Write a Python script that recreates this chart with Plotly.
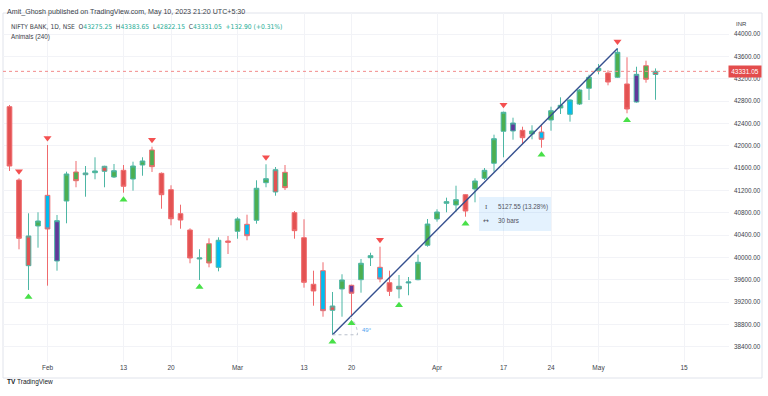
import plotly.graph_objects as go
import numpy as np

# ---------------- data ----------------
dates = ['2023-01-25', '2023-01-27', '2023-01-30', '2023-01-31',
         '2023-02-01', '2023-02-02', '2023-02-03', '2023-02-06', '2023-02-07', '2023-02-08',
         '2023-02-09', '2023-02-10', '2023-02-13', '2023-02-14', '2023-02-15', '2023-02-16',
         '2023-02-17', '2023-02-20', '2023-02-21', '2023-02-22', '2023-02-23', '2023-02-24',
         '2023-02-27', '2023-02-28',
         '2023-03-01', '2023-03-02', '2023-03-03', '2023-03-06', '2023-03-08', '2023-03-09',
         '2023-03-10', '2023-03-13', '2023-03-14', '2023-03-15', '2023-03-16', '2023-03-17',
         '2023-03-20', '2023-03-21', '2023-03-22', '2023-03-23', '2023-03-24', '2023-03-27',
         '2023-03-28', '2023-03-29', '2023-03-31',
         '2023-04-03', '2023-04-05', '2023-04-06', '2023-04-10', '2023-04-11', '2023-04-12',
         '2023-04-13', '2023-04-17', '2023-04-18', '2023-04-19', '2023-04-20', '2023-04-21',
         '2023-04-24', '2023-04-25', '2023-04-26', '2023-04-27', '2023-04-28',
         '2023-05-02', '2023-05-03', '2023-05-04', '2023-05-05', '2023-05-08', '2023-05-09',
         '2023-05-10']
future_dates = ['2023-05-11', '2023-05-12', '2023-05-15', '2023-05-16', '2023-05-17',
                '2023-05-18', '2023-05-19', '2023-05-22']

opens = [42698, 41385, 39851, 40562, 41111, 39935, 41009, 41529, 41480, 41516,
         41541, 41439, 41559, 41403, 41654, 41923, 41505, 41212, 40782, 40490,
         39971, 40245, 39822, 40293, 40467, 40592, 40664, 41337, 41171, 41523,
         40800, 40352, 39518, 39761, 39052, 39434, 39500, 39600, 39994, 39822,
         39546, 39434, 39541, 39600, 40216, 40687, 40968, 40938, 41122, 41224,
         41416, 41685, 42258, 42263, 42275, 42209, 42245, 42460, 42675, 42562,
         42746, 43028, 43343, 43302, 43225, 43105, 42782, 43432, 43275.25]
highs = [42729, 41416, 40789, 40807, 42012, 40759, 41534, 41726, 41636, 41792,
         41640, 41672, 41654, 41713, 41792, 41982, 41520, 41291, 40943, 40520,
         40145, 40341, 40359, 40383, 40718, 40764, 41380, 41667, 41618, 41654,
         40830, 40682, 39761, 39912, 39380, 39697, 39510, 39971, 40083, 40191,
         39761, 39684, 39648, 40048, 40687, 40861, 41069, 41283, 41130, 41416,
         41600, 42197, 42609, 42501, 42340, 42365, 42365, 42698, 42866, 42831,
         43015, 43271, 43463, 43350, 43741, 43583, 43414, 43522, 43383.65]
lows = [41547, 40144, 39416, 40173, 39493, 39761, 40610, 41255, 41086, 41398,
        41255, 41421, 41158, 41194, 41462, 41529, 40871, 40574, 40513, 39894,
        39595, 39822, 39750, 40060, 40334, 40306, 40603, 41255, 41104, 41206,
        40334, 39457, 39134, 38937, 38613.5, 38937, 38945, 39367, 39845, 39553,
        39308, 39267, 39321, 39590, 40191, 40639, 40807, 40818, 40728, 40986,
        41385, 41534, 41792, 42107, 42036, 42114, 41964, 42268, 42567, 42430,
        42729, 42818, 43278, 43081, 43212, 42580, 42770, 43128, 42822.15]
closes = [41636, 40341, 40383, 40651, 40508, 40657, 41493, 41373, 41511, 41547,
          41631, 41552, 41273, 41636, 41726, 41624, 41122, 40692, 40669, 39989,
          39989, 39899, 40306, 40270, 40687, 40388, 41237, 41409, 41570, 41248,
          40478, 39553, 39398, 39045, 39129, 39595, 39357, 39894, 40030, 39613,
          39392, 39482, 39559, 39912, 40597, 40812, 40997, 41033, 40830, 41368,
          41559, 42125, 42598, 42406, 42143, 42263, 42114, 42626, 42723, 42818,
          42997, 43225, 43386, 43140, 43672, 42657, 43278, 43189, 43331.05]
# "Animals" indicator bar state per candle
animal_state = ['R', 'R', 'R', 'G', 'B', 'P', 'G', 'G', 'R', 'G',
                'R', 'G', 'R', 'G', 'G', 'G', 'R', 'R', 'R', 'R',
                'R', 'G', 'B', 'R', 'G', 'B', 'G', 'G', 'R', 'G',
                'R', 'R', 'R', 'B', 'R', 'G', 'P', 'G', 'G', 'B',
                'R', 'R', 'P', 'G', 'G', 'G', 'G', 'G', 'R', 'G',
                'G', 'G', 'G', 'P', 'R', 'G', 'B', 'G', 'G', 'B',
                'G', 'G', 'G', 'R', 'G', 'R', 'P', 'G', 'R']
sell_signals = ['2023-01-27', '2023-02-01', '2023-02-16', '2023-03-06', '2023-03-23',
                '2023-04-17', '2023-05-04']
buy_signals = ['2023-01-30', '2023-02-13', '2023-02-23', '2023-03-16', '2023-03-20',
               '2023-03-27', '2023-04-10', '2023-04-21', '2023-05-05']
trend_start, trend_end = '2023-03-16', '2023-05-04'

tick_dates = ['2023-02-01', '2023-02-13', '2023-02-20', '2023-03-01', '2023-03-13', '2023-03-20',
              '2023-04-03', '2023-04-17', '2023-04-24', '2023-05-02', '2023-05-15']
tick_text = ['Feb', '13', '20', 'Mar', '13', '20', 'Apr', '17', '24', 'May', '15']

last_price = 43331.05
legend_vals = dict(O='43275.25', H='43383.65', L='42822.15', C='43331.05')
change_txt = '+132.90 (+0.31%)'
measure_txt = '5127.55 (13.28%)'
bars_txt = '30 bars'
angle_txt = '49°'

# ---------------- styling ----------------
body_colors = {'R': '#e35252', 'G': '#4caf50', 'B': '#00bcf0', 'P': '#60389a'}
wick_up, wick_dn = '#4db6a4', '#ef6b6e'
FONT = 'Liberation Sans, Arial, sans-serif'
NARROW = 'Liberation Sans Narrow, DejaVu Sans Condensed, Liberation Sans, sans-serif'
TXT = '#3b3f4a'

W, H = 768, 396
PL, PR, PT, PB = 3, 729, 13, 362          # plot area in px
calendar = dates + future_dates
idx = {d: i for i, d in enumerate(calendar)}
x = [idx[d] for d in dates]

X_PER_PX = 1 / 9.5
x_range = [(PL - 9.5) * X_PER_PX, (PR - 9.5) * X_PER_PX]
y_range = [38126, 44376]
Y_PER_PX = (y_range[1] - y_range[0]) / (PB - PT)


def pxx(px):
    return (px - PL) / (PR - PL)


def pxy(py):
    return (PB - py) / (PB - PT)


fig = go.Figure()

for code, col in body_colors.items():
    sel = [i for i, s in enumerate(animal_state) if s == code]
    fig.add_trace(go.Candlestick(
        x=[x[i] for i in sel],
        open=[opens[i] for i in sel], high=[highs[i] for i in sel],
        low=[lows[i] for i in sel], close=[closes[i] for i in sel],
        increasing=dict(line=dict(color=wick_up, width=1), fillcolor=col),
        decreasing=dict(line=dict(color=wick_dn, width=1), fillcolor=col),
        whiskerwidth=0, showlegend=False, hoverinfo='skip'))

# trend line
fig.add_trace(go.Scatter(
    x=[idx[trend_start], idx[trend_end]],
    y=[lows[dates.index(trend_start)], highs[dates.index(trend_end)]],
    mode='lines', line=dict(color='#36508f', width=1.4), showlegend=False, hoverinfo='skip'))

# signal markers
off = 7 * Y_PER_PX
fig.add_trace(go.Scatter(
    x=[idx[d] for d in sell_signals],
    y=[highs[dates.index(d)] + off for d in sell_signals],
    mode='markers', marker=dict(symbol='triangle-down', size=7, color='#f45050'),
    showlegend=False, hoverinfo='skip'))
fig.add_trace(go.Scatter(
    x=[idx[d] for d in buy_signals],
    y=[lows[dates.index(d)] - off for d in buy_signals],
    mode='markers', marker=dict(symbol='triangle-up', size=7, color='#48e048'),
    showlegend=False, hoverinfo='skip'))

shapes = []
annots = []
# frame
shapes.append(dict(type='rect', xref='paper', yref='paper', x0=pxx(3), x1=pxx(762),
                   y0=pxy(378), y1=pxy(13), line=dict(color='#e0e3eb', width=1), layer='below'))
# last price dotted line
shapes.append(dict(type='line', xref='paper', yref='y', x0=0, x1=1, y0=last_price, y1=last_price,
                   line=dict(color='#f28b8b', width=1, dash='dot')))
# price label (annotation with its own background, drawn above the axis labels)
annots.append(dict(text=f'{last_price:.2f}', x=pxx(745), y=last_price, xref='paper', yref='y',
                   xanchor='center', yanchor='middle',
                   showarrow=False, bgcolor='#e34c4c', borderpad=2, width=28,
                   font=dict(size=6.5, color='white', family=FONT)))
annots.append(dict(text='INR', x=pxx(741), y=pxy(19), xref='paper', yref='paper',
                   xanchor='center', showarrow=False, font=dict(size=6, color=TXT, family=FONT)))

# angle arc of trend line
cx = PL + (idx[trend_start] - x_range[0]) / X_PER_PX
cy = PT + (y_range[1] - lows[dates.index(trend_start)]) / Y_PER_PX
r = 25
th = np.linspace(0, np.pi / 4, 20)
path = 'M {} {} L {} {} '.format(pxx(cx), pxy(cy), pxx(cx + r), pxy(cy))
path += ' '.join('L {:.5f} {:.5f}'.format(pxx(cx + r * np.cos(t)), pxy(cy - r * np.sin(t))) for t in th)
shapes.append(dict(type='path', xref='paper', yref='paper', path=path,
                   line=dict(color='#b8bfcc', width=1, dash='dot')))
annots.append(dict(text=angle_txt, x=pxx(cx + 34), y=pxy(cy), xref='paper', yref='paper',
                   xanchor='center', showarrow=False, font=dict(size=6, color='#4fa3f0', family=FONT)))

# measure box
shapes.append(dict(type='rect', xref='paper', yref='paper', x0=pxx(479), x1=pxx(551),
                   y0=pxy(231), y1=pxy(197), fillcolor='rgba(33,150,243,0.12)', line=dict(width=0)))
annots.append(dict(text='I', x=pxx(486), y=pxy(207), xref='paper', yref='paper', showarrow=False,
                   xanchor='center', font=dict(size=7, color='#50535e', family='Liberation Serif, serif')))
annots.append(dict(text=measure_txt, x=pxx(496), y=pxy(207), xref='paper', yref='paper',
                   xanchor='left', showarrow=False, font=dict(size=6.3, color='#50535e', family=FONT)))
annots.append(dict(text='↔', x=pxx(486), y=pxy(221), xref='paper', yref='paper', showarrow=False,
                   xanchor='center', font=dict(size=7, color='#50535e', family='DejaVu Sans')))
annots.append(dict(text=bars_txt, x=pxx(496), y=pxy(221), xref='paper', yref='paper',
                   xanchor='left', showarrow=False, font=dict(size=6.3, color='#50535e', family=FONT)))

# header texts
annots.append(dict(text='Amit_Ghosh published on TradingView.com, May 10, 2023 21:20 UTC+5:30',
                   x=pxx(5), y=pxy(6), xref='paper', yref='paper', xanchor='left', showarrow=False,
                   font=dict(size=7.1, color=TXT, family=FONT)))
teal = '#22ab94'
sp = '\u00a0\u00a0'
leg = 'NIFTY BANK, 1D, NSE' + sp + sp.join(
    f"{k}<span style='color:{teal}'>{v}</span>" for k, v in legend_vals.items()) + \
    sp + f"<span style='color:{teal}'>{change_txt}</span>"
annots.append(dict(text=leg, x=pxx(9), y=pxy(21), xref='paper', yref='paper', xanchor='left',
                   showarrow=False, font=dict(size=6.7, color=TXT, family=NARROW)))
annots.append(dict(text='Animals (240)', x=pxx(9), y=pxy(31), xref='paper', yref='paper',
                   xanchor='left', showarrow=False, font=dict(size=6.3, color=TXT, family=FONT)))
annots.append(dict(text='<b>TV</b> TradingView', x=pxx(5), y=pxy(388), xref='paper', yref='paper',
                   xanchor='left', showarrow=False, font=dict(size=6.5, color='#131722', family=FONT)))

fig.update_layout(
    width=W, height=H, margin=dict(l=PL, r=W - PR, t=PT, b=H - PB),
    paper_bgcolor='white', plot_bgcolor='white', showlegend=False,
    shapes=shapes, annotations=annots,
    xaxis=dict(range=x_range, rangeslider=dict(visible=False), tickvals=[idx[d] for d in tick_dates],
               ticktext=tick_text, showgrid=True, gridcolor='#f2f3f7', zeroline=False, ticks='',
               tickfont=dict(size=6.5, color=TXT, family=FONT), showline=False, fixedrange=True),
    yaxis=dict(range=y_range, side='right', dtick=400, tick0=0, tickformat='.2f', showgrid=True,
               gridcolor='#f2f3f7', zeroline=False, ticks='', ticklabelstandoff=4,
               tickfont=dict(size=6.3, color=TXT, family=FONT), showline=False),
)

fig.write_html('out.html', config={'displayModeBar': False},
               post_script="document.body.style.margin='0';document.body.style.overflow='hidden';")
